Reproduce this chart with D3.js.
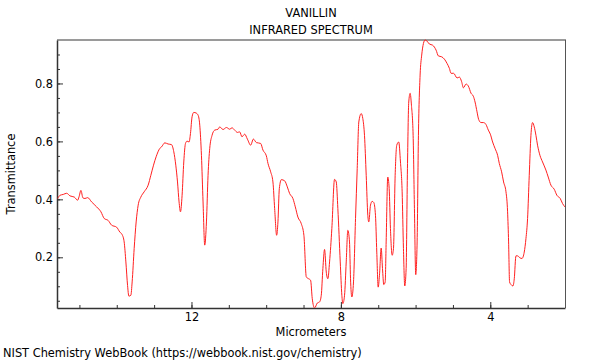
<!DOCTYPE html>
<html>
<head>
<meta charset="utf-8">
<script src="https://cdn.jsdelivr.net/npm/d3@7/dist/d3.min.js"></script>
<style>
  html, body { margin: 0; padding: 0; background: #fff; }
  svg { display: block; font-family: "DejaVu Sans", sans-serif; }
</style>
</head>
<body>
<svg id="chart" width="600" height="360"></svg>
<script>
const titleLines = ["VANILLIN", "INFRARED SPECTRUM"];
const xLabel = "Micrometers";
const yLabel = "Transmittance";
const footer = "NIST Chemistry WebBook (https://webbook.nist.gov/chemistry)";

const xMajorTicks = [12, 8, 4];
const xMinorTicks = [15, 14, 13, 12, 11, 10, 9, 8, 7, 6, 5, 4, 3];
const yMajorTicks = [0.2, 0.4, 0.6, 0.8];
const yMinorTicks = [0.05, 0.1, 0.15, 0.2, 0.25, 0.3, 0.35, 0.4, 0.45, 0.5, 0.55, 0.6, 0.65, 0.7, 0.75, 0.8, 0.85, 0.9];

const micrometers = [
  15.582, 15.520, 15.432, 15.341, 15.253, 15.138, 15.047, 15.012, 14.959, 14.906,
  14.852, 14.780, 14.673, 14.539, 14.424, 14.336, 14.229, 14.139, 14.005, 13.917,
  13.855, 13.802, 13.756, 13.711, 13.676, 13.623, 13.588, 13.534, 13.481, 13.427,
  13.355, 13.267, 13.160, 13.088, 13.016, 12.946, 12.847, 12.802, 12.714, 12.626,
  12.535, 12.473, 12.420, 12.374, 12.332, 12.294, 12.251, 12.206, 12.160, 12.118,
  12.064, 12.027, 11.984, 11.939, 11.877, 11.824, 11.778, 11.733, 11.690, 11.645,
  11.599, 11.556, 11.511, 11.449, 11.377, 11.289, 11.244, 11.155, 11.064, 10.976,
  10.915, 10.843, 10.770, 10.709, 10.648, 10.575, 10.503, 10.415, 10.343, 10.263,
  10.148, 10.086, 9.995, 9.952, 9.880, 9.819, 9.773, 9.720, 9.685, 9.648,
  9.594, 9.506, 9.434, 9.372, 9.284, 9.220, 9.151, 9.060, 8.990, 8.926,
  8.865, 8.811, 8.766, 8.704, 8.632, 8.570, 8.525, 8.482, 8.437, 8.391,
  8.349, 8.303, 8.242, 8.170, 8.124, 8.081, 8.017, 7.974, 7.948, 7.902,
  7.857, 7.814, 7.769, 7.742, 7.707, 7.662, 7.608, 7.563, 7.520, 7.456,
  7.413, 7.368, 7.322, 7.279, 7.253, 7.207, 7.162, 7.119, 7.074, 7.039,
  7.001, 6.967, 6.921, 6.886, 6.852, 6.814, 6.788, 6.745, 6.707, 6.673,
  6.627, 6.592, 6.547, 6.504, 6.451, 6.405, 6.360, 6.325, 6.290, 6.253,
  6.218, 6.183, 6.146, 6.111, 6.066, 6.031, 5.996, 5.959, 5.924, 5.879,
  5.836, 5.790, 5.745, 5.692, 5.630, 5.542, 5.451, 5.390, 5.301, 5.229,
  5.157, 5.095, 5.050, 4.981, 4.890, 4.828, 4.767, 4.721, 4.649, 4.588,
  4.515, 4.454, 4.408, 4.355, 4.312, 4.248, 4.179, 4.114, 4.053, 3.999,
  3.938, 3.874, 3.804, 3.759, 3.697, 3.644, 3.580, 3.537, 3.510, 3.484,
  3.446, 3.393, 3.358, 3.313, 3.270, 3.206, 3.152, 3.091, 3.045, 3.002,
  2.957, 2.912, 2.869, 2.823, 2.778, 2.735, 2.671, 2.601, 2.511, 2.449,
  2.377, 2.289, 2.217, 2.128, 2.067, 2.003
];

const transmittance = [
  0.403, 0.414, 0.417, 0.421, 0.412, 0.408, 0.397, 0.408, 0.431, 0.405,
  0.403, 0.406, 0.391, 0.374, 0.357, 0.334, 0.327, 0.311, 0.304, 0.287,
  0.278, 0.253, 0.184, 0.103, 0.066, 0.069, 0.115, 0.230, 0.322, 0.380,
  0.408, 0.426, 0.449, 0.483, 0.518, 0.547, 0.576, 0.581, 0.595, 0.591,
  0.589, 0.564, 0.518, 0.460, 0.391, 0.357, 0.414, 0.529, 0.593, 0.601,
  0.598, 0.627, 0.685, 0.700, 0.698, 0.691, 0.656, 0.552, 0.391, 0.242,
  0.322, 0.483, 0.576, 0.621, 0.639, 0.642, 0.650, 0.641, 0.648, 0.642,
  0.647, 0.639, 0.631, 0.633, 0.616, 0.625, 0.608, 0.587, 0.608, 0.596,
  0.593, 0.570, 0.550, 0.524, 0.495, 0.460, 0.368, 0.276, 0.322, 0.437,
  0.468, 0.464, 0.443, 0.420, 0.403, 0.374, 0.339, 0.316, 0.276, 0.132,
  0.126, 0.121, 0.057, 0.025, 0.042, 0.046, 0.069, 0.161, 0.227, 0.149,
  0.126, 0.184, 0.299, 0.469, 0.460, 0.368, 0.184, 0.069, 0.040, 0.069,
  0.184, 0.293, 0.253, 0.126, 0.063, 0.115, 0.334, 0.506, 0.667, 0.696,
  0.679, 0.621, 0.483, 0.345, 0.322, 0.380, 0.393, 0.389, 0.345, 0.218,
  0.097, 0.138, 0.232, 0.161, 0.106, 0.115, 0.253, 0.477, 0.437, 0.299,
  0.207, 0.230, 0.483, 0.587, 0.598, 0.529, 0.426, 0.230, 0.101, 0.161,
  0.506, 0.736, 0.766, 0.725, 0.621, 0.368, 0.140, 0.253, 0.621, 0.829,
  0.898, 0.938, 0.950, 0.946, 0.936, 0.932, 0.915, 0.895, 0.892, 0.884,
  0.869, 0.852, 0.835, 0.835, 0.819, 0.822, 0.806, 0.785, 0.798, 0.791,
  0.766, 0.756, 0.736, 0.702, 0.676, 0.665, 0.665, 0.658, 0.639, 0.625,
  0.598, 0.576, 0.552, 0.524, 0.495, 0.460, 0.426, 0.357, 0.253, 0.115,
  0.106, 0.101, 0.126, 0.205, 0.205, 0.198, 0.196, 0.218, 0.265, 0.334,
  0.483, 0.621, 0.665, 0.650, 0.621, 0.587, 0.552, 0.529, 0.501, 0.477,
  0.449, 0.435, 0.414, 0.403, 0.386, 0.374
];

const FS = 11.4;
const plot = { left: 57, right: 565, top: 40, bottom: 308 };

const svg = d3.select("#chart");

const x = d3.scaleLinear().domain([15.6, 2.0]).range([plot.left, plot.right]);
const y = d3.scaleLinear().domain([0.025, 0.95]).range([plot.bottom, plot.top]);

// clip
svg.append("defs").append("clipPath").attr("id", "clip")
  .append("rect")
  .attr("x", plot.left).attr("y", plot.top - 1)
  .attr("width", plot.right - plot.left).attr("height", plot.bottom - plot.top + 1);

// top & right frame
svg.append("line")
  .attr("x1", plot.left).attr("x2", plot.right + 1)
  .attr("y1", plot.top).attr("y2", plot.top)
  .attr("stroke", "#9a9a9a").attr("stroke-width", 2);
svg.append("line")
  .attr("x1", plot.right + 0.5).attr("x2", plot.right + 0.5)
  .attr("y1", plot.top).attr("y2", plot.bottom)
  .attr("stroke", "#555").attr("stroke-width", 1);

// axes
const axisStyle = g => {
  g.selectAll("text").attr("font-family", "DejaVu Sans, sans-serif").attr("font-size", FS).attr("fill", "#000");
  g.selectAll("line").attr("stroke", "#333");
};

const xMinor = svg.append("g")
  .attr("transform", `translate(0,${plot.bottom})`)
  .call(d3.axisBottom(x).tickValues(xMinorTicks).tickSize(-3).tickFormat(""));
xMinor.select(".domain").remove();
xMinor.call(axisStyle);

const xAxis = svg.append("g")
  .attr("transform", `translate(0,${plot.bottom})`)
  .call(d3.axisBottom(x).tickValues(xMajorTicks).tickSizeInner(-6).tickSizeOuter(0).tickPadding(5).tickFormat(d3.format("d")));
xAxis.select(".domain").attr("stroke", "#333").attr("stroke-width", 1.5);
xAxis.call(axisStyle);

const yMinor = svg.append("g")
  .attr("transform", `translate(${plot.left},0)`)
  .call(d3.axisLeft(y).tickValues(yMinorTicks).tickSize(-3).tickFormat(""));
yMinor.select(".domain").remove();
yMinor.call(axisStyle);

const yAxis = svg.append("g")
  .attr("transform", `translate(${plot.left},0)`)
  .call(d3.axisLeft(y).tickValues(yMajorTicks).tickSizeInner(-6).tickSizeOuter(0).tickPadding(4).tickFormat(d3.format(".1f")));
yAxis.select(".domain").attr("stroke", "#333").attr("stroke-width", 1.5);
yAxis.call(axisStyle);
yAxis.selectAll("text").attr("x", -4);

// spectrum
const data = micrometers.map((m, i) => ({ m, t: transmittance[i] }));
const line = d3.line()
  .x(d => x(d.m))
  .y(d => y(d.t))
  .curve(d3.curveMonotoneX);

svg.append("path")
  .datum(data)
  .attr("clip-path", "url(#clip)")
  .attr("fill", "none")
  .attr("stroke", "#ff2020")
  .attr("stroke-width", 1)
  .attr("d", line);

// titles
const cx = (plot.left + plot.right) / 2;
svg.append("text").attr("x", cx).attr("y", 17).attr("text-anchor", "middle")
  .attr("font-size", FS).text(titleLines[0]);
svg.append("text").attr("x", cx).attr("y", 34).attr("text-anchor", "middle")
  .attr("font-size", FS).text(titleLines[1]);

svg.append("text").attr("x", cx).attr("y", 336).attr("text-anchor", "middle")
  .attr("font-size", FS).text(xLabel);

svg.append("text")
  .attr("transform", `translate(15,${(plot.top + plot.bottom) / 2}) rotate(-90)`)
  .attr("text-anchor", "middle")
  .attr("font-size", FS).text(yLabel);

svg.append("text").attr("x", 3).attr("y", 357)
  .attr("font-size", FS).text(footer);
</script>
</body>
</html>
